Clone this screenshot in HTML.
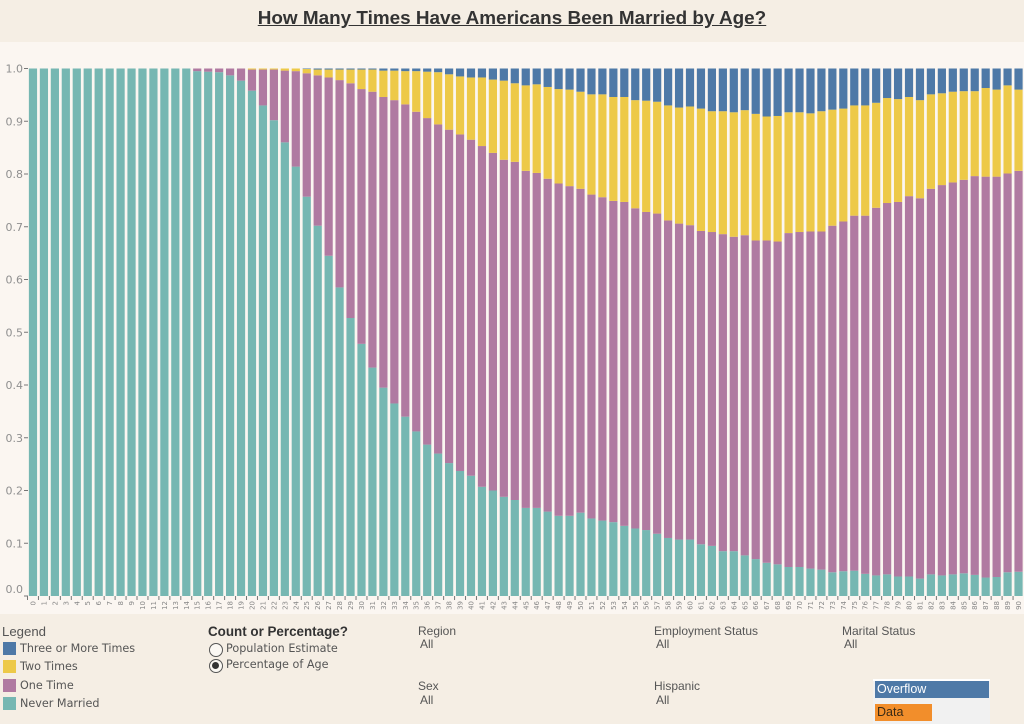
<!DOCTYPE html>
<html lang="en">
<head>
<meta charset="utf-8">
<title>How Many Times Have Americans Been Married by Age?</title>
<style>
  html, body { margin: 0; padding: 0; }
  body { width: 1024px; height: 724px; overflow: hidden; background: #f5eee4; position: relative; font-family: "Liberation Sans", sans-serif; color: #444; }
  .abs { position: absolute; white-space: nowrap; }
  #title { left: 0; width: 1024px; top: 8px; text-align: center; font-size: 18.9px; font-weight: bold; color: #333; text-decoration: underline; line-height: 22px; }
  #chart { position: absolute; left: 0; top: 0; }
  .dv { font-family: "DejaVu Sans", sans-serif; font-size: 11.2px; color: #555; line-height: 14px; }
  .f { font-size: 12px; color: #555; line-height: 14px; }
  .sw { position: absolute; left: 3px; width: 13px; height: 13px; }
  .radio { position: absolute; left: 208.5px; width: 12px; height: 12px; border: 1px solid #555; border-radius: 50%; background: #fbf8f3; box-sizing: content-box; }
  .dot { position: absolute; left: 2.5px; top: 2.5px; width: 7px; height: 7px; border-radius: 50%; background: #333; }
</style>
</head>
<body>
<div class="abs" id="title">How Many Times Have Americans Been Married by Age?</div>
<svg id="chart" width="1024" height="724" xmlns="http://www.w3.org/2000/svg"></svg>

<div class="abs f" style="left:2px;top:625px;font-size:13.2px">Legend</div>
<div class="sw" style="top:642px;background:#4e79a7"></div>
<div class="abs dv" style="left:20px;top:642px">Three or More Times</div>
<div class="sw" style="top:660px;background:#edc948"></div>
<div class="abs dv" style="left:20px;top:660px">Two Times</div>
<div class="sw" style="top:679px;background:#b07aa1"></div>
<div class="abs dv" style="left:20px;top:679px">One Time</div>
<div class="sw" style="top:697px;background:#76b7b2"></div>
<div class="abs dv" style="left:20px;top:697px">Never Married</div>

<div class="abs" style="left:208px;top:625px;font-size:13.4px;font-weight:bold;color:#333;line-height:14px">Count or Percentage?</div>
<div class="radio" style="top:643px"></div>
<div class="abs dv" style="left:226px;top:642px">Population Estimate</div>
<div class="radio" style="top:658.5px"><div class="dot"></div></div>
<div class="abs dv" style="left:226px;top:658px">Percentage of Age</div>

<div class="abs f" style="left:418px;top:624px">Region</div>
<div class="abs f" style="left:420px;top:637px">All</div>
<div class="abs f" style="left:654px;top:624px">Employment Status</div>
<div class="abs f" style="left:656px;top:637px">All</div>
<div class="abs f" style="left:842px;top:624px">Marital Status</div>
<div class="abs f" style="left:844px;top:637px">All</div>
<div class="abs f" style="left:418px;top:679px">Sex</div>
<div class="abs f" style="left:420px;top:693px">All</div>
<div class="abs f" style="left:654px;top:679px">Hispanic</div>
<div class="abs f" style="left:656px;top:693px">All</div>

<div class="abs" style="left:873px;top:679px;width:117px;height:45px;background:#f1f1f1"></div>
<div class="abs" style="left:873px;top:679px;width:117px;height:2px;background:#fff"></div>
<div class="abs" style="left:875px;top:681px;width:114px;height:17px;background:#4e79a7;color:#fff;font-size:12.5px;line-height:17px;text-indent:2px">Overflow</div>
<div class="abs" style="left:875px;top:704px;width:57px;height:17px;background:#f28e2b;color:#3a2a15;font-size:12.5px;line-height:17px;text-indent:2px">Data</div>

<script>
const yTickLabels = ["0.0","0.1","0.2","0.3","0.4","0.5","0.6","0.7","0.8","0.9","1.0"];
const yTickValues = [0,0.1,0.2,0.3,0.4,0.5,0.6,0.7,0.8,0.9,1];
const ages = [0,1,2,3,4,5,6,7,8,9,10,11,12,13,14,15,16,17,18,19,20,21,22,23,24,25,26,27,28,29,30,31,32,33,34,35,36,37,38,39,40,41,42,43,44,45,46,47,48,49,50,51,52,53,54,55,56,57,58,59,60,61,62,63,64,65,66,67,68,69,70,71,72,73,74,75,76,77,78,79,80,81,82,83,84,85,86,87,88,89,90];
const neverMarried = [1,1,1,1,1,1,1,1,1,1,1,1,1,1,1,.995,.994,.993,.987,.977,.958,.930,.902,.860,.814,.757,.702,.645,.585,.527,.478,.433,.395,.365,.340,.312,.287,.270,.252,.237,.228,.207,.200,.188,.182,.167,.167,.160,.152,.152,.158,.147,.143,.140,.133,.128,.125,.118,.110,.107,.107,.098,.095,.085,.085,.077,.070,.063,.060,.055,.055,.052,.050,.045,.047,.048,.042,.039,.041,.037,.037,.033,.041,.039,.041,.043,.040,.035,.036,.045,.046];
const oneTime = [0,0,0,0,0,0,0,0,0,0,0,0,0,0,0,.005,.006,.007,.013,.023,.040,.068,.096,.136,.181,.234,.285,.338,.393,.445,.483,.523,.551,.575,.592,.606,.619,.624,.632,.638,.637,.646,.640,.639,.641,.639,.635,.631,.630,.625,.614,.614,.613,.609,.614,.607,.603,.607,.602,.599,.596,.594,.595,.601,.596,.607,.604,.611,.612,.633,.635,.639,.641,.657,.663,.673,.679,.697,.704,.710,.721,.721,.731,.740,.743,.746,.756,.760,.759,.756,.760];
const twoTimes = [0,0,0,0,0,0,0,0,0,0,0,0,0,0,0,0,0,0,0,0,.002,.002,.002,.004,.005,.008,.011,.015,.020,.026,.037,.042,.050,.056,.063,.077,.088,.099,.105,.110,.118,.130,.139,.150,.149,.162,.168,.174,.179,.183,.184,.190,.195,.197,.199,.205,.211,.212,.218,.220,.225,.232,.229,.233,.236,.237,.240,.235,.238,.229,.227,.224,.228,.220,.214,.209,.209,.199,.199,.195,.188,.186,.179,.174,.172,.168,.161,.168,.165,.167,.154];
const threeOrMore = [0,0,0,0,0,0,0,0,0,0,0,0,0,0,0,0,0,0,0,0,0,0,0,0,0,.001,.002,.002,.002,.002,.002,.002,.004,.004,.005,.005,.006,.007,.011,.015,.017,.017,.021,.023,.028,.032,.030,.035,.039,.040,.044,.049,.049,.054,.054,.060,.061,.063,.070,.074,.072,.076,.081,.081,.083,.079,.086,.091,.090,.083,.083,.085,.081,.078,.076,.070,.070,.065,.056,.058,.054,.060,.049,.047,.044,.043,.043,.037,.040,.032,.040];
const seriesNames = ["never-married","one-time","two-times","three-or-more"];
const seriesValues = [neverMarried, oneTime, twoTimes, threeOrMore];
const seriesColors = ["#76b7b2","#b07aa1","#edc948","#4e79a7"];

const svgNS = "http://www.w3.org/2000/svg";
const svg = document.getElementById("chart");
const plotLeft = 27.5, plotRight = 1024, plotTop = 68.5, plotBottom = 596;
const barStep = (plotRight - plotLeft) / ages.length;
const barWidth = 8.2;
function xScale(i) { return plotLeft + barStep * (i + 0.5); }
function yScale(v) { return plotBottom - v * (plotBottom - plotTop); }
function make(tag, attrs) {
  const el = document.createElementNS(svgNS, tag);
  for (const k in attrs) el.setAttribute(k, attrs[k]);
  return el;
}

const plotBg = make("rect", {x:0, y:42, width:1024, height:572, fill:"#fbf6f1"});


svg.appendChild(plotBg);

ages.forEach(function (age, i) {
  let cum = 0;
  seriesValues.forEach(function (vals, s) {
    const v = vals[i];
    if (v > 0) {
      const y1 = yScale(cum), y2 = yScale(cum + v);
      const bar = make("rect", {x:xScale(i) - barWidth / 2, y:y2, width:barWidth, height:y1 - y2, fill:seriesColors[s]});
      
      
      svg.appendChild(bar);
    }
    cum += v;
  });

  const tickX = xScale(i) - barStep / 2;
  const tick = make("line", {x1:tickX, x2:tickX, y1:plotBottom, y2:plotBottom + 4, stroke:"#777", "stroke-width":1});
  
  
  svg.appendChild(tick);

  const lx = xScale(i) + 2.5, ly = plotBottom + 5;
  const label = make("text", {x:lx, y:ly, transform:"rotate(-90 " + lx + " " + ly + ")", "text-anchor":"end", "font-size":7, fill:"#888", "font-family":"'DejaVu Sans', sans-serif"});
  label.textContent = age;
  
  
  svg.appendChild(label);
});

yTickValues.forEach(function (v, i) {
  const tick = make("line", {x1:24, x2:28, y1:yScale(v), y2:yScale(v), stroke:"#777", "stroke-width":1});
  
  
  svg.appendChild(tick);

  const shift = v === 0 ? -7 : 0;
  const label = make("text", {x:23, y:yScale(v) + 4 + shift, "text-anchor":"end", "font-size":11, fill:"#8f8f8f", "font-family":"'DejaVu Sans', sans-serif"});
  label.textContent = yTickLabels[i];
  
  
  svg.appendChild(label);
});
</script>
</body>
</html>
